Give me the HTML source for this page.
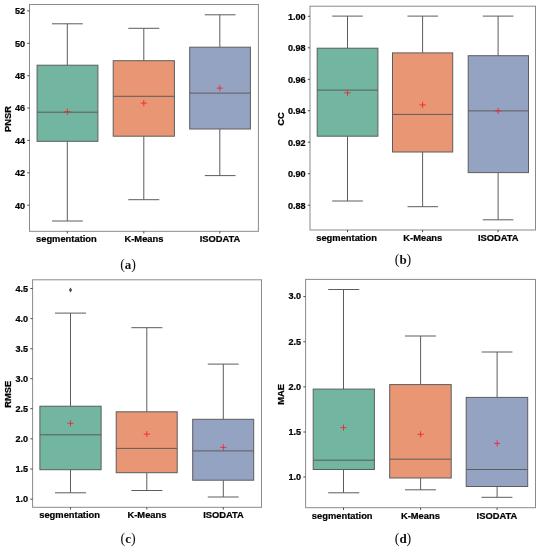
<!DOCTYPE html>
<html lang="en">
<head>
<meta charset="utf-8">
<title>Box plots</title>
<style>
html,body{margin:0;padding:0;background:#fff;}
svg{display:block;}
.t{font-family:"Liberation Sans",Arial,Helvetica,sans-serif;font-weight:bold;font-size:9.35px;fill:#000;stroke:#000;stroke-width:0.22px;}
.tk{font-size:9.1px;}
.cap{font-family:"Liberation Serif","Times New Roman",serif;font-size:14px;fill:#111;}
.cap tspan{font-weight:bold;font-size:13px;}
</style>
</head>
<body>
<svg width="539" height="550" viewBox="0 0 539 550">
<rect width="539" height="550" fill="#fff"/>
<g id="plot-a">
<line x1="67.3" y1="23.8" x2="67.3" y2="65.2" stroke="#5c5c5c" stroke-width="1.0"/>
<line x1="67.3" y1="141.3" x2="67.3" y2="221.0" stroke="#5c5c5c" stroke-width="1.0"/>
<line x1="52.0" y1="23.8" x2="82.8" y2="23.8" stroke="#5c5c5c" stroke-width="1.0"/>
<line x1="52.0" y1="221.0" x2="82.8" y2="221.0" stroke="#5c5c5c" stroke-width="1.0"/>
<rect x="37.1" y="65.2" width="60.8" height="76.1" fill="#72b6a1" stroke="#5c5c5c" stroke-width="1.0"/>
<line x1="37.1" y1="112.2" x2="97.9" y2="112.2" stroke="#5c5c5c" stroke-width="1.0"/>
<path d="M64.2 111.7H70.4M67.3 108.6V114.8" stroke="#f02428" stroke-width="0.85" fill="none"/>
<line x1="143.8" y1="28.3" x2="143.8" y2="60.7" stroke="#5c5c5c" stroke-width="1.0"/>
<line x1="143.8" y1="136.2" x2="143.8" y2="199.7" stroke="#5c5c5c" stroke-width="1.0"/>
<line x1="128.3" y1="28.3" x2="159.3" y2="28.3" stroke="#5c5c5c" stroke-width="1.0"/>
<line x1="128.3" y1="199.7" x2="159.3" y2="199.7" stroke="#5c5c5c" stroke-width="1.0"/>
<rect x="113.2" y="60.7" width="61.2" height="75.5" fill="#e99675" stroke="#5c5c5c" stroke-width="1.0"/>
<line x1="113.2" y1="96.3" x2="174.4" y2="96.3" stroke="#5c5c5c" stroke-width="1.0"/>
<path d="M140.7 103.1H146.9M143.8 100.0V106.2" stroke="#f02428" stroke-width="0.85" fill="none"/>
<line x1="219.8" y1="14.8" x2="219.8" y2="47.2" stroke="#5c5c5c" stroke-width="1.0"/>
<line x1="219.8" y1="129.0" x2="219.8" y2="175.6" stroke="#5c5c5c" stroke-width="1.0"/>
<line x1="204.8" y1="14.8" x2="235.6" y2="14.8" stroke="#5c5c5c" stroke-width="1.0"/>
<line x1="204.8" y1="175.6" x2="235.6" y2="175.6" stroke="#5c5c5c" stroke-width="1.0"/>
<rect x="189.7" y="47.2" width="60.7" height="81.8" fill="#95a3c3" stroke="#5c5c5c" stroke-width="1.0"/>
<line x1="189.7" y1="93.1" x2="250.4" y2="93.1" stroke="#5c5c5c" stroke-width="1.0"/>
<path d="M216.7 88.1H222.9M219.8 85.0V91.2" stroke="#f02428" stroke-width="0.85" fill="none"/>
<rect x="29.5" y="4.5" width="228.9" height="226.8" fill="none" stroke="#8a8a8a" stroke-width="1"/>
<line x1="27.3" y1="10.9" x2="29.5" y2="10.9" stroke="#3a3a3a" stroke-width="0.9"/>
<text class="t tk" x="25.1" y="14.2" text-anchor="end">52</text>
<line x1="27.3" y1="43.3" x2="29.5" y2="43.3" stroke="#3a3a3a" stroke-width="0.9"/>
<text class="t tk" x="25.1" y="46.6" text-anchor="end">50</text>
<line x1="27.3" y1="75.7" x2="29.5" y2="75.7" stroke="#3a3a3a" stroke-width="0.9"/>
<text class="t tk" x="25.1" y="79.0" text-anchor="end">48</text>
<line x1="27.3" y1="108.0" x2="29.5" y2="108.0" stroke="#3a3a3a" stroke-width="0.9"/>
<text class="t tk" x="25.1" y="111.3" text-anchor="end">46</text>
<line x1="27.3" y1="140.4" x2="29.5" y2="140.4" stroke="#3a3a3a" stroke-width="0.9"/>
<text class="t tk" x="25.1" y="143.7" text-anchor="end">44</text>
<line x1="27.3" y1="172.8" x2="29.5" y2="172.8" stroke="#3a3a3a" stroke-width="0.9"/>
<text class="t tk" x="25.1" y="176.1" text-anchor="end">42</text>
<line x1="27.3" y1="205.2" x2="29.5" y2="205.2" stroke="#3a3a3a" stroke-width="0.9"/>
<text class="t tk" x="25.1" y="208.5" text-anchor="end">40</text>
<line x1="67.3" y1="231.3" x2="67.3" y2="233.5" stroke="#3a3a3a" stroke-width="0.9"/>
<text class="t" x="66.4" y="242.1" text-anchor="middle">segmentation</text>
<line x1="143.8" y1="231.3" x2="143.8" y2="233.5" stroke="#3a3a3a" stroke-width="0.9"/>
<text class="t" x="144.0" y="242.1" text-anchor="middle">K-Means</text>
<line x1="219.8" y1="231.3" x2="219.8" y2="233.5" stroke="#3a3a3a" stroke-width="0.9"/>
<text class="t" x="220.0" y="242.1" text-anchor="middle">ISODATA</text>
<text class="t" transform="translate(10.8 118.9) rotate(-90)" text-anchor="middle">PNSR</text>
<text class="cap" x="128.1" y="268.5" text-anchor="middle">(<tspan>a</tspan>)</text>
</g>
<g id="plot-b">
<line x1="347.5" y1="16.1" x2="347.5" y2="48.2" stroke="#5c5c5c" stroke-width="1.0"/>
<line x1="347.5" y1="136.2" x2="347.5" y2="201.0" stroke="#5c5c5c" stroke-width="1.0"/>
<line x1="332.2" y1="16.1" x2="362.8" y2="16.1" stroke="#5c5c5c" stroke-width="1.0"/>
<line x1="332.2" y1="201.0" x2="362.8" y2="201.0" stroke="#5c5c5c" stroke-width="1.0"/>
<rect x="317.2" y="48.2" width="60.7" height="88.0" fill="#72b6a1" stroke="#5c5c5c" stroke-width="1.0"/>
<line x1="317.2" y1="90.1" x2="377.9" y2="90.1" stroke="#5c5c5c" stroke-width="1.0"/>
<path d="M344.4 92.8H350.6M347.5 89.7V95.9" stroke="#f02428" stroke-width="0.85" fill="none"/>
<line x1="422.6" y1="16.1" x2="422.6" y2="52.9" stroke="#5c5c5c" stroke-width="1.0"/>
<line x1="422.6" y1="152.0" x2="422.6" y2="206.7" stroke="#5c5c5c" stroke-width="1.0"/>
<line x1="407.5" y1="16.1" x2="438.1" y2="16.1" stroke="#5c5c5c" stroke-width="1.0"/>
<line x1="407.5" y1="206.7" x2="438.1" y2="206.7" stroke="#5c5c5c" stroke-width="1.0"/>
<rect x="392.5" y="52.9" width="60.2" height="99.1" fill="#e99675" stroke="#5c5c5c" stroke-width="1.0"/>
<line x1="392.5" y1="114.4" x2="452.7" y2="114.4" stroke="#5c5c5c" stroke-width="1.0"/>
<path d="M419.5 104.9H425.7M422.6 101.8V108.0" stroke="#f02428" stroke-width="0.85" fill="none"/>
<line x1="498.1" y1="16.1" x2="498.1" y2="55.7" stroke="#5c5c5c" stroke-width="1.0"/>
<line x1="498.1" y1="172.6" x2="498.1" y2="219.8" stroke="#5c5c5c" stroke-width="1.0"/>
<line x1="482.8" y1="16.1" x2="513.4" y2="16.1" stroke="#5c5c5c" stroke-width="1.0"/>
<line x1="482.8" y1="219.8" x2="513.4" y2="219.8" stroke="#5c5c5c" stroke-width="1.0"/>
<rect x="468.2" y="55.7" width="60.3" height="116.9" fill="#95a3c3" stroke="#5c5c5c" stroke-width="1.0"/>
<line x1="468.2" y1="110.9" x2="528.5" y2="110.9" stroke="#5c5c5c" stroke-width="1.0"/>
<path d="M495.0 110.9H501.2M498.1 107.8V114.0" stroke="#f02428" stroke-width="0.85" fill="none"/>
<rect x="310.0" y="6.2" width="225.5" height="223.8" fill="none" stroke="#8a8a8a" stroke-width="1"/>
<line x1="307.8" y1="16.3" x2="310.0" y2="16.3" stroke="#3a3a3a" stroke-width="0.9"/>
<text class="t tk" x="305.6" y="19.7" text-anchor="end">1.00</text>
<line x1="307.8" y1="47.8" x2="310.0" y2="47.8" stroke="#3a3a3a" stroke-width="0.9"/>
<text class="t tk" x="305.6" y="51.2" text-anchor="end">0.98</text>
<line x1="307.8" y1="79.3" x2="310.0" y2="79.3" stroke="#3a3a3a" stroke-width="0.9"/>
<text class="t tk" x="305.6" y="82.7" text-anchor="end">0.96</text>
<line x1="307.8" y1="110.7" x2="310.0" y2="110.7" stroke="#3a3a3a" stroke-width="0.9"/>
<text class="t tk" x="305.6" y="114.1" text-anchor="end">0.94</text>
<line x1="307.8" y1="142.2" x2="310.0" y2="142.2" stroke="#3a3a3a" stroke-width="0.9"/>
<text class="t tk" x="305.6" y="145.6" text-anchor="end">0.92</text>
<line x1="307.8" y1="173.7" x2="310.0" y2="173.7" stroke="#3a3a3a" stroke-width="0.9"/>
<text class="t tk" x="305.6" y="177.1" text-anchor="end">0.90</text>
<line x1="307.8" y1="205.2" x2="310.0" y2="205.2" stroke="#3a3a3a" stroke-width="0.9"/>
<text class="t tk" x="305.6" y="208.6" text-anchor="end">0.88</text>
<line x1="347.5" y1="230.0" x2="347.5" y2="232.2" stroke="#3a3a3a" stroke-width="0.9"/>
<text class="t" x="346.6" y="240.6" text-anchor="middle">segmentation</text>
<line x1="422.6" y1="230.0" x2="422.6" y2="232.2" stroke="#3a3a3a" stroke-width="0.9"/>
<text class="t" x="422.8" y="240.6" text-anchor="middle">K-Means</text>
<line x1="498.1" y1="230.0" x2="498.1" y2="232.2" stroke="#3a3a3a" stroke-width="0.9"/>
<text class="t" x="498.3" y="240.6" text-anchor="middle">ISODATA</text>
<text class="t" transform="translate(283.8 118.9) rotate(-90)" text-anchor="middle">CC</text>
<text class="cap" x="403.0" y="264.1" text-anchor="middle">(<tspan>b</tspan>)</text>
</g>
<g id="plot-c">
<line x1="70.5" y1="313.1" x2="70.5" y2="406.2" stroke="#5c5c5c" stroke-width="1.0"/>
<line x1="70.5" y1="469.7" x2="70.5" y2="492.8" stroke="#5c5c5c" stroke-width="1.0"/>
<line x1="55.0" y1="313.1" x2="86.1" y2="313.1" stroke="#5c5c5c" stroke-width="1.0"/>
<line x1="55.0" y1="492.8" x2="86.1" y2="492.8" stroke="#5c5c5c" stroke-width="1.0"/>
<rect x="39.9" y="406.2" width="61.2" height="63.5" fill="#72b6a1" stroke="#5c5c5c" stroke-width="1.0"/>
<line x1="39.9" y1="434.8" x2="101.1" y2="434.8" stroke="#5c5c5c" stroke-width="1.0"/>
<path d="M67.4 423.3H73.6M70.5 420.2V426.4" stroke="#f02428" stroke-width="0.85" fill="none"/>
<path d="M70.5 287.5L72.1 290.0L70.5 292.5L68.9 290.0Z" fill="#484848"/>
<line x1="146.8" y1="327.7" x2="146.8" y2="411.8" stroke="#5c5c5c" stroke-width="1.0"/>
<line x1="146.8" y1="472.7" x2="146.8" y2="490.5" stroke="#5c5c5c" stroke-width="1.0"/>
<line x1="131.4" y1="327.7" x2="162.4" y2="327.7" stroke="#5c5c5c" stroke-width="1.0"/>
<line x1="131.4" y1="490.5" x2="162.4" y2="490.5" stroke="#5c5c5c" stroke-width="1.0"/>
<rect x="116.2" y="411.8" width="61.0" height="60.9" fill="#e99675" stroke="#5c5c5c" stroke-width="1.0"/>
<line x1="116.2" y1="448.4" x2="177.2" y2="448.4" stroke="#5c5c5c" stroke-width="1.0"/>
<path d="M143.7 434.1H149.9M146.8 431.0V437.2" stroke="#f02428" stroke-width="0.85" fill="none"/>
<line x1="223.3" y1="364.1" x2="223.3" y2="419.3" stroke="#5c5c5c" stroke-width="1.0"/>
<line x1="223.3" y1="480.2" x2="223.3" y2="497.0" stroke="#5c5c5c" stroke-width="1.0"/>
<line x1="207.8" y1="364.1" x2="238.6" y2="364.1" stroke="#5c5c5c" stroke-width="1.0"/>
<line x1="207.8" y1="497.0" x2="238.6" y2="497.0" stroke="#5c5c5c" stroke-width="1.0"/>
<rect x="192.7" y="419.3" width="61.0" height="60.9" fill="#95a3c3" stroke="#5c5c5c" stroke-width="1.0"/>
<line x1="192.7" y1="450.9" x2="253.7" y2="450.9" stroke="#5c5c5c" stroke-width="1.0"/>
<path d="M220.2 447.4H226.4M223.3 444.3V450.5" stroke="#f02428" stroke-width="0.85" fill="none"/>
<rect x="32.6" y="279.8" width="228.9" height="227.5" fill="none" stroke="#8a8a8a" stroke-width="1"/>
<line x1="30.4" y1="288.5" x2="32.6" y2="288.5" stroke="#3a3a3a" stroke-width="0.9"/>
<text class="t tk" x="28.2" y="291.6" text-anchor="end">4.5</text>
<line x1="30.4" y1="318.6" x2="32.6" y2="318.6" stroke="#3a3a3a" stroke-width="0.9"/>
<text class="t tk" x="28.2" y="321.7" text-anchor="end">4.0</text>
<line x1="30.4" y1="348.7" x2="32.6" y2="348.7" stroke="#3a3a3a" stroke-width="0.9"/>
<text class="t tk" x="28.2" y="351.8" text-anchor="end">3.5</text>
<line x1="30.4" y1="378.7" x2="32.6" y2="378.7" stroke="#3a3a3a" stroke-width="0.9"/>
<text class="t tk" x="28.2" y="381.8" text-anchor="end">3.0</text>
<line x1="30.4" y1="408.7" x2="32.6" y2="408.7" stroke="#3a3a3a" stroke-width="0.9"/>
<text class="t tk" x="28.2" y="411.8" text-anchor="end">2.5</text>
<line x1="30.4" y1="438.8" x2="32.6" y2="438.8" stroke="#3a3a3a" stroke-width="0.9"/>
<text class="t tk" x="28.2" y="441.9" text-anchor="end">2.0</text>
<line x1="30.4" y1="469.0" x2="32.6" y2="469.0" stroke="#3a3a3a" stroke-width="0.9"/>
<text class="t tk" x="28.2" y="472.1" text-anchor="end">1.5</text>
<line x1="30.4" y1="499.2" x2="32.6" y2="499.2" stroke="#3a3a3a" stroke-width="0.9"/>
<text class="t tk" x="28.2" y="502.3" text-anchor="end">1.0</text>
<line x1="70.5" y1="507.3" x2="70.5" y2="509.5" stroke="#3a3a3a" stroke-width="0.9"/>
<text class="t" x="69.6" y="518.1" text-anchor="middle">segmentation</text>
<line x1="146.8" y1="507.3" x2="146.8" y2="509.5" stroke="#3a3a3a" stroke-width="0.9"/>
<text class="t" x="147.0" y="518.1" text-anchor="middle">K-Means</text>
<line x1="223.3" y1="507.3" x2="223.3" y2="509.5" stroke="#3a3a3a" stroke-width="0.9"/>
<text class="t" x="223.5" y="518.1" text-anchor="middle">ISODATA</text>
<text class="t" transform="translate(10.8 394.2) rotate(-90)" text-anchor="middle">RMSE</text>
<text class="cap" x="128.1" y="542.5" text-anchor="middle">(<tspan>c</tspan>)</text>
</g>
<g id="plot-d">
<line x1="343.5" y1="289.5" x2="343.5" y2="389.1" stroke="#5c5c5c" stroke-width="1.0"/>
<line x1="343.5" y1="469.5" x2="343.5" y2="492.8" stroke="#5c5c5c" stroke-width="1.0"/>
<line x1="328.2" y1="289.5" x2="359.3" y2="289.5" stroke="#5c5c5c" stroke-width="1.0"/>
<line x1="328.2" y1="492.8" x2="359.3" y2="492.8" stroke="#5c5c5c" stroke-width="1.0"/>
<rect x="313.2" y="389.1" width="61.2" height="80.4" fill="#72b6a1" stroke="#5c5c5c" stroke-width="1.0"/>
<line x1="313.2" y1="460.2" x2="374.4" y2="460.2" stroke="#5c5c5c" stroke-width="1.0"/>
<path d="M340.4 427.6H346.6M343.5 424.5V430.7" stroke="#f02428" stroke-width="0.85" fill="none"/>
<line x1="420.6" y1="336.0" x2="420.6" y2="384.6" stroke="#5c5c5c" stroke-width="1.0"/>
<line x1="420.6" y1="478.0" x2="420.6" y2="489.8" stroke="#5c5c5c" stroke-width="1.0"/>
<line x1="405.0" y1="336.0" x2="435.9" y2="336.0" stroke="#5c5c5c" stroke-width="1.0"/>
<line x1="405.0" y1="489.8" x2="435.9" y2="489.8" stroke="#5c5c5c" stroke-width="1.0"/>
<rect x="389.7" y="384.6" width="61.5" height="93.4" fill="#e99675" stroke="#5c5c5c" stroke-width="1.0"/>
<line x1="389.7" y1="459.2" x2="451.2" y2="459.2" stroke="#5c5c5c" stroke-width="1.0"/>
<path d="M417.5 434.3H423.7M420.6 431.2V437.4" stroke="#f02428" stroke-width="0.85" fill="none"/>
<line x1="497.1" y1="352.0" x2="497.1" y2="397.4" stroke="#5c5c5c" stroke-width="1.0"/>
<line x1="497.1" y1="486.5" x2="497.1" y2="497.3" stroke="#5c5c5c" stroke-width="1.0"/>
<line x1="481.5" y1="352.0" x2="512.4" y2="352.0" stroke="#5c5c5c" stroke-width="1.0"/>
<line x1="481.5" y1="497.3" x2="512.4" y2="497.3" stroke="#5c5c5c" stroke-width="1.0"/>
<rect x="466.2" y="397.4" width="61.5" height="89.1" fill="#95a3c3" stroke="#5c5c5c" stroke-width="1.0"/>
<line x1="466.2" y1="469.5" x2="527.7" y2="469.5" stroke="#5c5c5c" stroke-width="1.0"/>
<path d="M494.0 443.4H500.2M497.1 440.3V446.5" stroke="#f02428" stroke-width="0.85" fill="none"/>
<rect x="305.6" y="279.4" width="229.9" height="228.3" fill="none" stroke="#8a8a8a" stroke-width="1"/>
<line x1="303.4" y1="296.6" x2="305.6" y2="296.6" stroke="#3a3a3a" stroke-width="0.9"/>
<text class="t tk" x="301.2" y="299.4" text-anchor="end">3.0</text>
<line x1="303.4" y1="341.8" x2="305.6" y2="341.8" stroke="#3a3a3a" stroke-width="0.9"/>
<text class="t tk" x="301.2" y="344.6" text-anchor="end">2.5</text>
<line x1="303.4" y1="386.9" x2="305.6" y2="386.9" stroke="#3a3a3a" stroke-width="0.9"/>
<text class="t tk" x="301.2" y="389.7" text-anchor="end">2.0</text>
<line x1="303.4" y1="432.0" x2="305.6" y2="432.0" stroke="#3a3a3a" stroke-width="0.9"/>
<text class="t tk" x="301.2" y="434.8" text-anchor="end">1.5</text>
<line x1="303.4" y1="477.0" x2="305.6" y2="477.0" stroke="#3a3a3a" stroke-width="0.9"/>
<text class="t tk" x="301.2" y="479.8" text-anchor="end">1.0</text>
<line x1="343.5" y1="507.7" x2="343.5" y2="509.9" stroke="#3a3a3a" stroke-width="0.9"/>
<text class="t" x="342.2" y="518.9" text-anchor="middle">segmentation</text>
<line x1="420.6" y1="507.7" x2="420.6" y2="509.9" stroke="#3a3a3a" stroke-width="0.9"/>
<text class="t" x="420.4" y="518.9" text-anchor="middle">K-Means</text>
<line x1="497.1" y1="507.7" x2="497.1" y2="509.9" stroke="#3a3a3a" stroke-width="0.9"/>
<text class="t" x="496.9" y="518.9" text-anchor="middle">ISODATA</text>
<text class="t" transform="translate(283.8 394.4) rotate(-90)" text-anchor="middle">MAE</text>
<text class="cap" x="403.0" y="542.5" text-anchor="middle">(<tspan>d</tspan>)</text>
</g>
</svg>
</body>
</html>
